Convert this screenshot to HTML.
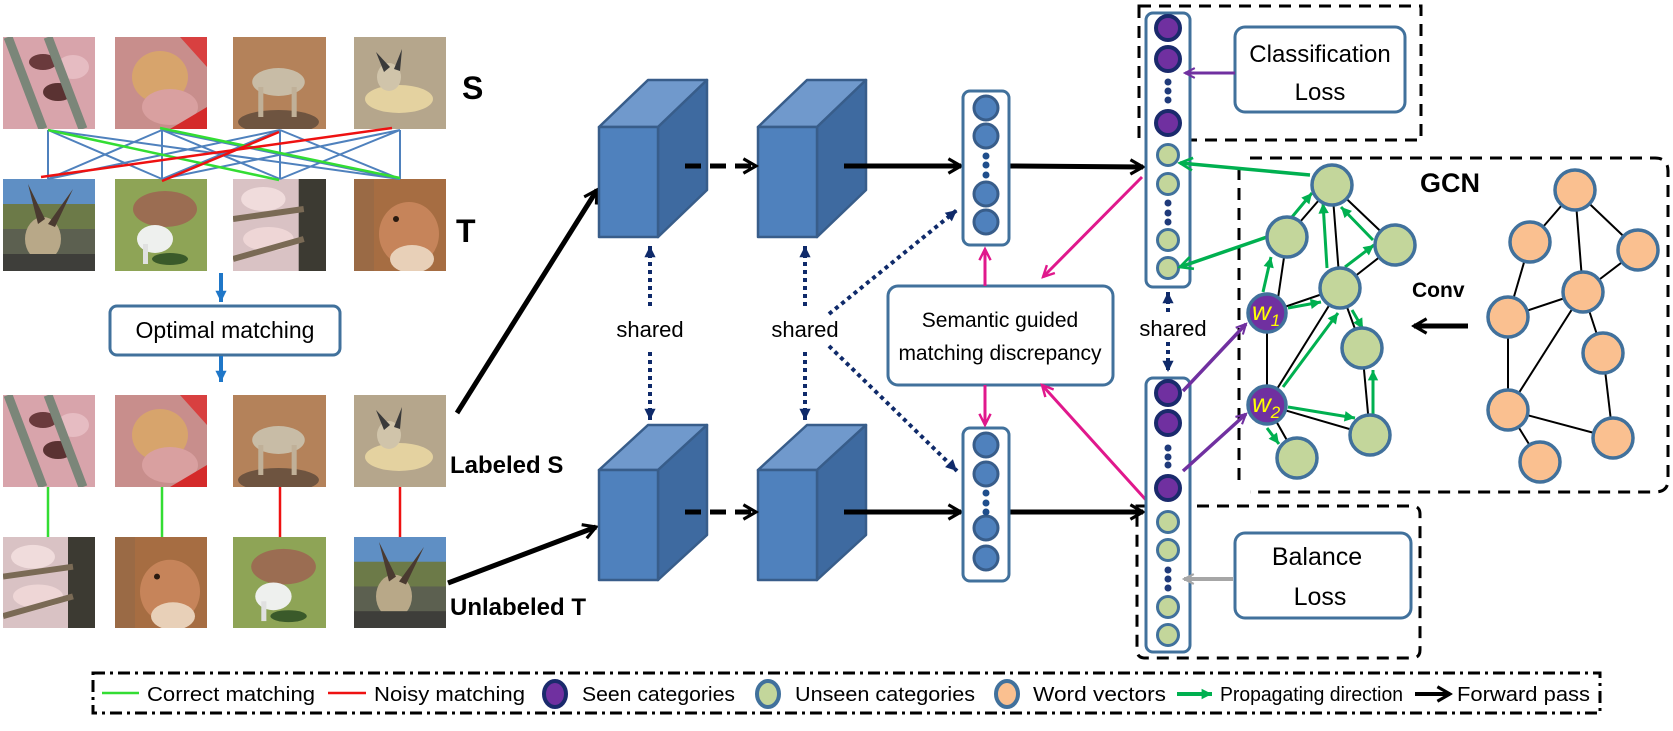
<!DOCTYPE html>
<html><head><meta charset="utf-8"><style>
html,body{margin:0;padding:0;background:#fff;}
svg{display:block;}
text{font-family:"Liberation Sans",sans-serif;}
</style></head><body>
<svg width="1673" height="731" viewBox="0 0 1673 731" xmlns="http://www.w3.org/2000/svg">
<defs>
<marker id="ab" viewBox="0 0 20 20" refX="17" refY="10" markerWidth="18" markerHeight="18" markerUnits="userSpaceOnUse" orient="auto"><path d="M3,2 L17,10 L3,18" fill="none" stroke="#000" stroke-width="3.5"/></marker>
<marker id="apk" viewBox="0 0 20 20" refX="17" refY="10" markerWidth="16" markerHeight="16" markerUnits="userSpaceOnUse" orient="auto"><path d="M3,3 L17,10 L3,17" fill="none" stroke="#e0188c" stroke-width="3"/></marker>
<marker id="apu" viewBox="0 0 20 20" refX="17" refY="10" markerWidth="14" markerHeight="14" markerUnits="userSpaceOnUse" orient="auto"><path d="M3,3 L17,10 L3,17" fill="none" stroke="#7030a0" stroke-width="3"/></marker>
<marker id="agr" viewBox="0 0 20 20" refX="17" refY="10" markerWidth="14" markerHeight="14" markerUnits="userSpaceOnUse" orient="auto"><path d="M3,3 L17,10 L3,17" fill="none" stroke="#a6a6a6" stroke-width="3"/></marker>
<marker id="ag" viewBox="0 0 20 20" refX="18" refY="10" markerWidth="13" markerHeight="13" markerUnits="userSpaceOnUse" orient="auto"><path d="M2,2 L18,10 L2,18 Z" fill="#00b050"/></marker>
<marker id="agv" viewBox="0 0 20 20" refX="17" refY="10" markerWidth="18" markerHeight="18" markerUnits="userSpaceOnUse" orient="auto"><path d="M3,3 L17,10 L3,17" fill="none" stroke="#00b050" stroke-width="3"/></marker>
<marker id="an" viewBox="0 0 20 20" refX="18" refY="10" markerWidth="14" markerHeight="14" markerUnits="userSpaceOnUse" orient="auto"><path d="M2,2 L18,10 L2,18 Z" fill="#0f2a6a"/></marker>
<marker id="an0" viewBox="0 0 20 20" refX="2" refY="10" markerWidth="14" markerHeight="14" markerUnits="userSpaceOnUse" orient="auto"><path d="M18,2 L2,10 L18,18 Z" fill="#0f2a6a"/></marker>
<marker id="abl" viewBox="0 0 20 20" refX="18" refY="10" markerWidth="14" markerHeight="14" markerUnits="userSpaceOnUse" orient="auto"><path d="M2,2 L18,10 L2,18 Z" fill="#1f77c8"/></marker>

<symbol id="pig" viewBox="0 0 92 92" preserveAspectRatio="none"><rect width="92" height="92" fill="#d8a4ab"/><ellipse cx="40" cy="25" rx="14" ry="8" fill="#6a3a3c"/><ellipse cx="55" cy="55" rx="15" ry="9" fill="#5a3232"/><ellipse cx="70" cy="30" rx="16" ry="12" fill="#e6bcc2"/><path d="M5,0 L40,92 M45,0 L80,92" stroke="#7b8679" stroke-width="9"/></symbol>
<symbol id="ham" viewBox="0 0 92 92" preserveAspectRatio="none"><rect width="92" height="92" fill="#c88e8c"/><ellipse cx="45" cy="40" rx="28" ry="26" fill="#d7a46c"/><ellipse cx="55" cy="70" rx="28" ry="18" fill="#d9a0a0"/><path d="M55,92 L92,70 L92,92 Z" fill="#d42a2a"/><path d="M65,0 L92,0 L92,30 Z" fill="#d84040"/></symbol>
<symbol id="dog" viewBox="0 0 92 92" preserveAspectRatio="none"><rect width="92" height="92" fill="#b4825a"/><ellipse cx="45" cy="85" rx="40" ry="12" fill="#6e5440"/><ellipse cx="45" cy="45" rx="26" ry="14" fill="#c8bca6"/><rect x="25" y="50" width="5" height="30" fill="#c0b098"/><rect x="58" y="50" width="5" height="30" fill="#c0b098"/></symbol>
<symbol id="fox" viewBox="0 0 92 92" preserveAspectRatio="none"><rect width="92" height="92" fill="#b5a68c"/><ellipse cx="45" cy="62" rx="34" ry="14" fill="#e4d2a0"/><ellipse cx="35" cy="40" rx="12" ry="14" fill="#d0c4aa"/><path d="M22,15 L30,35 L36,30 Z M48,12 L40,32 L46,34 Z" fill="#3a3a3a"/></symbol>
<symbol id="rab" viewBox="0 0 92 92" preserveAspectRatio="none"><rect width="92" height="92" fill="#5c6050"/><rect width="92" height="30" fill="#5f8fc4"/><rect y="25" width="92" height="25" fill="#6c7a48"/><ellipse cx="40" cy="60" rx="18" ry="22" fill="#b8a888"/><path d="M25,5 L35,45 L42,40 Z M70,10 L45,45 L52,48 Z" fill="#4a3a30"/><rect y="75" width="92" height="17" fill="#3e3e3a"/></symbol>
<symbol id="cow" viewBox="0 0 92 92" preserveAspectRatio="none"><rect width="92" height="92" fill="#8ea456"/><ellipse cx="50" cy="30" rx="32" ry="18" fill="#9b6d52"/><ellipse cx="40" cy="60" rx="18" ry="14" fill="#eef0ee"/><rect x="28" y="65" width="5" height="20" fill="#e0e0e0"/><ellipse cx="55" cy="80" rx="18" ry="6" fill="#3a5a2a"/></symbol>
<symbol id="pigs" viewBox="0 0 92 92" preserveAspectRatio="none"><rect width="92" height="92" fill="#d9c2c4"/><rect x="65" width="27" height="92" fill="#3c3a32"/><ellipse cx="30" cy="20" rx="22" ry="12" fill="#f0dcdc"/><ellipse cx="35" cy="60" rx="25" ry="12" fill="#eed6d6"/><path d="M0,40 L70,30 M0,80 L70,60" stroke="#7a6a55" stroke-width="6"/></symbol>
<symbol id="ham2" viewBox="0 0 92 92" preserveAspectRatio="none"><rect width="92" height="92" fill="#a66d42"/><ellipse cx="55" cy="55" rx="30" ry="32" fill="#c6845a"/><ellipse cx="58" cy="80" rx="22" ry="14" fill="#e8d0b8"/><circle cx="42" cy="40" r="3" fill="#2a1a10"/><rect x="0" y="0" width="20" height="92" fill="#9a6a45"/></symbol>
</defs>

<use href="#pig" x="3" y="37" width="92" height="92"/>
<use href="#ham" x="115" y="37" width="92" height="92"/>
<use href="#dog" x="233" y="37" width="93" height="92"/>
<use href="#fox" x="354" y="37" width="92" height="92"/>
<use href="#rab" x="3" y="179" width="92" height="92"/>
<use href="#cow" x="115" y="179" width="92" height="92"/>
<use href="#pigs" x="233" y="179" width="93" height="92"/>
<use href="#ham2" x="354" y="179" width="92" height="92"/>
<use href="#pig" x="3" y="395" width="92" height="92"/>
<use href="#ham" x="115" y="395" width="92" height="92"/>
<use href="#dog" x="233" y="395" width="93" height="92"/>
<use href="#fox" x="354" y="395" width="92" height="92"/>
<use href="#pigs" x="3" y="537" width="92" height="91"/>
<use href="#ham2" x="115" y="537" width="92" height="91"/>
<use href="#cow" x="233" y="537" width="93" height="91"/>
<use href="#rab" x="354" y="537" width="92" height="91"/>

<g stroke="#4f81bd" stroke-width="2">
<path d="M48,130 L48,179 M48,130 L162,179 M48,130 L400,179 M162,130 L48,179 M162,130 L162,179 M162,130 L280,179 M280,130 L48,179 M280,130 L162,179 M280,130 L280,179 M280,130 L400,179 M400,130 L162,179 M400,130 L280,179 M400,130 L400,179 M162,130 L400,179"/>
</g>
<g stroke-width="2.5">
<line x1="48" y1="130" x2="279" y2="180" stroke="#33dd33"/>
<line x1="160" y1="128" x2="400" y2="178" stroke="#33dd33"/>
<line x1="279" y1="132" x2="162" y2="181" stroke="#ee1111"/>
<line x1="392" y1="128" x2="41" y2="177" stroke="#ee1111"/>
</g>
<text x="462" y="99" font-size="32" font-weight="bold">S</text>
<text x="456" y="242" font-size="32" font-weight="bold">T</text>

<line x1="221" y1="273" x2="221" y2="302" stroke="#1f77c8" stroke-width="4" marker-end="url(#abl)"/>
<rect x="110" y="306" width="230" height="49" rx="7" fill="#fff" stroke="#41719c" stroke-width="3"/>
<text x="225" y="338" font-size="23" text-anchor="middle">Optimal  matching</text>
<line x1="221" y1="356" x2="221" y2="382" stroke="#1f77c8" stroke-width="4" marker-end="url(#abl)"/>

<g stroke-width="2.5">
<line x1="48" y1="487" x2="48" y2="537" stroke="#33dd33"/>
<line x1="162" y1="487" x2="162" y2="537" stroke="#33dd33"/>
<line x1="280" y1="487" x2="280" y2="537" stroke="#ee1111"/>
<line x1="400" y1="487" x2="400" y2="537" stroke="#ee1111"/>
</g>
<text x="450" y="473" font-size="24" font-weight="bold">Labeled S</text>
<text x="450" y="615" font-size="24" font-weight="bold">Unlabeled T</text>

<g stroke="#000" stroke-width="5" fill="none">
<line x1="457" y1="413" x2="597" y2="190" marker-end="url(#ab)"/>
<line x1="448" y1="583" x2="596" y2="527" marker-end="url(#ab)"/>
</g>

<g stroke="#385d8a" stroke-width="2.5" stroke-linejoin="round">
<polygon points="599,127 648,80 707,80 658,127" fill="#7099cc"/>
<polygon points="658,127 707,80 707,190 658,237" fill="#3e6aa0"/>
<rect x="599" y="127" width="59" height="110" fill="#4f81bd"/>
<polygon points="758,127 807,80 866,80 817,127" fill="#7099cc"/>
<polygon points="817,127 866,80 866,190 817,237" fill="#3e6aa0"/>
<rect x="758" y="127" width="59" height="110" fill="#4f81bd"/>
<polygon points="599,470 648,425 707,425 658,470" fill="#7099cc"/>
<polygon points="658,470 707,425 707,535 658,580" fill="#3e6aa0"/>
<rect x="599" y="470" width="59" height="110" fill="#4f81bd"/>
<polygon points="758,470 807,425 866,425 817,470" fill="#7099cc"/>
<polygon points="817,470 866,425 866,535 817,580" fill="#3e6aa0"/>
<rect x="758" y="470" width="59" height="110" fill="#4f81bd"/>
</g>

<g stroke="#000" stroke-width="5" fill="none">
<line x1="685" y1="166" x2="756" y2="166" stroke-dasharray="16 9" marker-end="url(#ab)"/>
<line x1="685" y1="512" x2="756" y2="512" stroke-dasharray="16 9" marker-end="url(#ab)"/>
<line x1="844" y1="166" x2="961" y2="166" marker-end="url(#ab)"/>
<line x1="844" y1="512" x2="961" y2="512" marker-end="url(#ab)"/>
<line x1="1009" y1="166" x2="1143" y2="167" marker-end="url(#ab)"/>
<line x1="1009" y1="512" x2="1143" y2="512" marker-end="url(#ab)"/>
</g>

<g stroke="#0f2a6a" stroke-width="4" stroke-dasharray="4 4" fill="none">
<line x1="650" y1="246" x2="650" y2="306" marker-start="url(#an0)"/>
<line x1="650" y1="352" x2="650" y2="420" marker-end="url(#an)"/>
<line x1="805" y1="246" x2="805" y2="306" marker-start="url(#an0)"/>
<line x1="805" y1="352" x2="805" y2="420" marker-end="url(#an)"/>
<line x1="829" y1="314" x2="957" y2="210" marker-end="url(#an)"/>
<line x1="829" y1="346" x2="957" y2="471" marker-end="url(#an)"/>
<line x1="1168" y1="292" x2="1168" y2="312" marker-start="url(#an0)"/>
<line x1="1168" y1="342" x2="1168" y2="372" marker-end="url(#an)"/>
</g>
<text x="650" y="337" font-size="22" text-anchor="middle">shared</text>
<text x="805" y="337" font-size="22" text-anchor="middle">shared</text>
<text x="1173" y="336" font-size="22" text-anchor="middle">shared</text>

<g stroke="#41719c" stroke-width="3">
<rect x="963" y="91" width="46" height="154" rx="7" fill="#fff"/>
<rect x="963" y="428" width="46" height="153" rx="7" fill="#fff"/>
</g>
<g fill="#4f81bd" stroke="#385d8a" stroke-width="3">
<circle cx="986" cy="108" r="12"/><circle cx="986" cy="136" r="12"/><circle cx="986" cy="194" r="12"/><circle cx="986" cy="222" r="12"/>
<circle cx="986" cy="445" r="12"/><circle cx="986" cy="474" r="12"/><circle cx="986" cy="528" r="12"/><circle cx="986" cy="558" r="12"/>
</g>
<g fill="#1f4e8c">
<circle cx="986" cy="156" r="3.5"/><circle cx="986" cy="165" r="3.5"/><circle cx="986" cy="175" r="3.5"/>
<circle cx="986" cy="493" r="3.5"/><circle cx="986" cy="503" r="3.5"/><circle cx="986" cy="512" r="3.5"/>
</g>

<rect x="888" y="286" width="225" height="99" rx="10" fill="#fff" stroke="#41719c" stroke-width="3"/>
<text x="1000" y="327" font-size="21" text-anchor="middle">Semantic guided</text>
<text x="1000" y="360" font-size="21" text-anchor="middle">matching discrepancy</text>
<g stroke="#e0188c" stroke-width="3" fill="none">
<line x1="985" y1="286" x2="985" y2="249" marker-end="url(#apk)"/>
<line x1="985" y1="385" x2="985" y2="425" marker-end="url(#apk)"/>
<line x1="1142" y1="177" x2="1043" y2="277" marker-end="url(#apk)"/>
<line x1="1146" y1="500" x2="1042" y2="385" marker-end="url(#apk)"/>
</g>

<g stroke="#000" stroke-width="3" fill="none" stroke-dasharray="12 8">
<rect x="1139" y="6" width="282" height="134"/>
<path d="M1137,506 L1412,506 Q1420,506 1420,514 L1420,650 Q1420,658 1412,658 L1145,658 Q1137,658 1137,650 Z"/>
<path d="M1250,158 L1655,158 Q1668,158 1668,171 L1668,480 Q1668,492 1655,492 L1250,492"/>
<path d="M1239,168 L1239,484"/>
</g>

<g stroke="#41719c" stroke-width="3">
<rect x="1146" y="13" width="44" height="274" rx="7" fill="#fff"/>
<rect x="1146" y="378" width="44" height="274" rx="7" fill="#fff"/>
</g>
<g fill="#7030a0" stroke="#1a2a6c" stroke-width="4">
<circle cx="1168" cy="28" r="12"/><circle cx="1168" cy="59" r="12"/><circle cx="1168" cy="123" r="12"/>
<circle cx="1168" cy="393" r="12"/><circle cx="1168" cy="423" r="12"/><circle cx="1168" cy="488" r="12"/>
</g>
<g fill="#c3d69b" stroke="#41719c" stroke-width="3">
<circle cx="1168" cy="155" r="10.5"/><circle cx="1168" cy="184" r="10.5"/><circle cx="1168" cy="240" r="10.5"/><circle cx="1168" cy="268" r="10.5"/>
<circle cx="1168" cy="522" r="10.5"/><circle cx="1168" cy="550" r="10.5"/><circle cx="1168" cy="607" r="10.5"/><circle cx="1168" cy="635" r="10.5"/>
</g>
<g fill="#1f3a7a">
<circle cx="1168" cy="82" r="3.5"/><circle cx="1168" cy="91" r="3.5"/><circle cx="1168" cy="100" r="3.5"/>
<circle cx="1168" cy="203" r="3.5"/><circle cx="1168" cy="213" r="3.5"/><circle cx="1168" cy="222" r="3.5"/>
<circle cx="1168" cy="448" r="3.5"/><circle cx="1168" cy="457" r="3.5"/><circle cx="1168" cy="465" r="3.5"/>
<circle cx="1168" cy="570" r="3.5"/><circle cx="1168" cy="579" r="3.5"/><circle cx="1168" cy="588" r="3.5"/>
</g>

<rect x="1235" y="27" width="170" height="85" rx="10" fill="#fff" stroke="#41719c" stroke-width="3"/>
<text x="1320" y="62" font-size="24" text-anchor="middle">Classification</text>
<text x="1320" y="100" font-size="24" text-anchor="middle">Loss</text>
<line x1="1235" y1="73" x2="1185" y2="73" stroke="#7030a0" stroke-width="3" marker-end="url(#apu)"/>
<rect x="1235" y="533" width="176" height="85" rx="10" fill="#fff" stroke="#41719c" stroke-width="3"/>
<text x="1317" y="565" font-size="25" text-anchor="middle">Balance</text>
<text x="1320" y="605" font-size="25" text-anchor="middle">Loss</text>
<line x1="1233" y1="579" x2="1184" y2="579" stroke="#a6a6a6" stroke-width="4" marker-end="url(#agr)"/>

<g stroke="#000" stroke-width="2">
<line x1="1332" y1="185" x2="1287" y2="237"/><line x1="1332" y1="185" x2="1340" y2="288"/><line x1="1332" y1="185" x2="1395" y2="245"/>
<line x1="1395" y1="245" x2="1340" y2="288"/><line x1="1287" y1="237" x2="1277" y2="305"/><line x1="1267" y1="313" x2="1340" y2="288"/>
<line x1="1267" y1="313" x2="1267" y2="405"/><line x1="1267" y1="405" x2="1340" y2="288"/><line x1="1340" y1="288" x2="1362" y2="348"/>
<line x1="1362" y1="348" x2="1370" y2="435"/><line x1="1267" y1="405" x2="1370" y2="435"/><line x1="1267" y1="405" x2="1297" y2="458"/>
<line x1="1575" y1="190" x2="1530" y2="242"/><line x1="1575" y1="190" x2="1638" y2="250"/><line x1="1575" y1="190" x2="1583" y2="292"/>
<line x1="1638" y1="250" x2="1583" y2="292"/><line x1="1530" y1="242" x2="1508" y2="317"/><line x1="1508" y1="317" x2="1583" y2="292"/>
<line x1="1583" y1="292" x2="1508" y2="410"/><line x1="1583" y1="292" x2="1603" y2="353"/><line x1="1508" y1="317" x2="1508" y2="410"/>
<line x1="1603" y1="353" x2="1613" y2="438"/><line x1="1508" y1="410" x2="1613" y2="438"/><line x1="1508" y1="410" x2="1540" y2="462"/>
</g>
<g stroke="#00b050" stroke-width="3" fill="none">
<line x1="1263" y1="292" x2="1271" y2="257" marker-end="url(#ag)"/>
<line x1="1292" y1="217" x2="1312" y2="193" marker-end="url(#ag)"/>
<line x1="1327" y1="268" x2="1323" y2="203" marker-end="url(#ag)"/>
<line x1="1373" y1="240" x2="1341" y2="207" marker-end="url(#ag)"/>
<line x1="1345" y1="267" x2="1374" y2="245" marker-end="url(#ag)"/>
<line x1="1288" y1="308" x2="1321" y2="302" marker-end="url(#ag)"/>
<line x1="1283" y1="387" x2="1338" y2="313" marker-end="url(#ag)"/>
<line x1="1352" y1="310" x2="1363" y2="329" marker-end="url(#ag)"/>
<line x1="1373" y1="415" x2="1373" y2="370" marker-end="url(#ag)"/>
<line x1="1288" y1="407" x2="1355" y2="418" marker-end="url(#ag)"/>
<line x1="1267" y1="428" x2="1279" y2="444" marker-end="url(#ag)"/>
<line x1="1310" y1="175" x2="1180" y2="163" stroke-width="3.5" marker-end="url(#agv)"/>
<line x1="1267" y1="237" x2="1180" y2="267" stroke-width="3.5" marker-end="url(#agv)"/>
</g>
<g stroke="#7030a0" stroke-width="3.5" fill="none">
<line x1="1183" y1="391" x2="1246" y2="324" marker-end="url(#apu)"/>
<line x1="1183" y1="471" x2="1246" y2="414" marker-end="url(#apu)"/>
</g>
<g fill="#c3d69b" stroke="#41719c" stroke-width="3.5">
<circle cx="1332" cy="185" r="20"/><circle cx="1287" cy="237" r="20"/><circle cx="1395" cy="245" r="20"/>
<circle cx="1340" cy="288" r="20"/><circle cx="1362" cy="348" r="20"/><circle cx="1370" cy="435" r="20"/><circle cx="1297" cy="458" r="20"/>
</g>
<g fill="#7030a0" stroke="#41719c" stroke-width="3.5">
<circle cx="1267" cy="313" r="19"/><circle cx="1267" cy="405" r="19"/>
</g>
<text x="1252" y="320" font-family="Liberation Serif,serif" font-style="italic" font-size="26" fill="#ffff00">w<tspan font-size="17" dy="6">1</tspan></text>
<text x="1252" y="412" font-family="Liberation Serif,serif" font-style="italic" font-size="26" fill="#ffff00">w<tspan font-size="17" dy="6">2</tspan></text>
<g fill="#fac090" stroke="#41719c" stroke-width="3.5">
<circle cx="1575" cy="190" r="20"/><circle cx="1530" cy="242" r="20"/><circle cx="1638" cy="250" r="20"/>
<circle cx="1583" cy="292" r="20"/><circle cx="1508" cy="317" r="20"/><circle cx="1603" cy="353" r="20"/>
<circle cx="1508" cy="410" r="20"/><circle cx="1613" cy="438" r="20"/><circle cx="1540" cy="462" r="20"/>
</g>
<text x="1420" y="192" font-size="27" font-weight="bold">GCN</text>
<text x="1412" y="297" font-size="21" font-weight="bold">Conv</text>
<line x1="1468" y1="326" x2="1414" y2="326" stroke="#000" stroke-width="5" marker-end="url(#ab)"/>

<rect x="93" y="673" width="1507" height="40" fill="none" stroke="#000" stroke-width="3" stroke-dasharray="12 5 3 5"/>
<line x1="102" y1="693" x2="139" y2="693" stroke="#33dd33" stroke-width="2.5"/>
<g font-size="20">
<text x="147" y="701" textLength="168" lengthAdjust="spacingAndGlyphs">Correct matching</text>
<text x="374" y="701" textLength="151" lengthAdjust="spacingAndGlyphs">Noisy matching</text>
<text x="582" y="701" textLength="153" lengthAdjust="spacingAndGlyphs">Seen categories</text>
<text x="795" y="701" textLength="180" lengthAdjust="spacingAndGlyphs">Unseen categories</text>
<text x="1033" y="701" textLength="133" lengthAdjust="spacingAndGlyphs">Word vectors</text>
<text x="1220" y="701" textLength="183" lengthAdjust="spacingAndGlyphs">Propagating direction</text>
<text x="1457" y="701" textLength="133" lengthAdjust="spacingAndGlyphs">Forward pass</text>
</g>
<line x1="328" y1="693" x2="366" y2="693" stroke="#ee1111" stroke-width="2.5"/>
<ellipse cx="555" cy="694" rx="11" ry="13" fill="#7030a0" stroke="#1a2a6c" stroke-width="4"/>
<ellipse cx="768" cy="694" rx="11" ry="13" fill="#c3d69b" stroke="#41719c" stroke-width="4"/>
<ellipse cx="1007" cy="694" rx="11" ry="13" fill="#fac090" stroke="#41719c" stroke-width="4"/>
<line x1="1177" y1="694" x2="1212" y2="694" stroke="#00b050" stroke-width="4" marker-end="url(#ag)"/>
<line x1="1415" y1="694" x2="1450" y2="694" stroke="#000" stroke-width="4" marker-end="url(#ab)"/>
</svg>
</body></html>
